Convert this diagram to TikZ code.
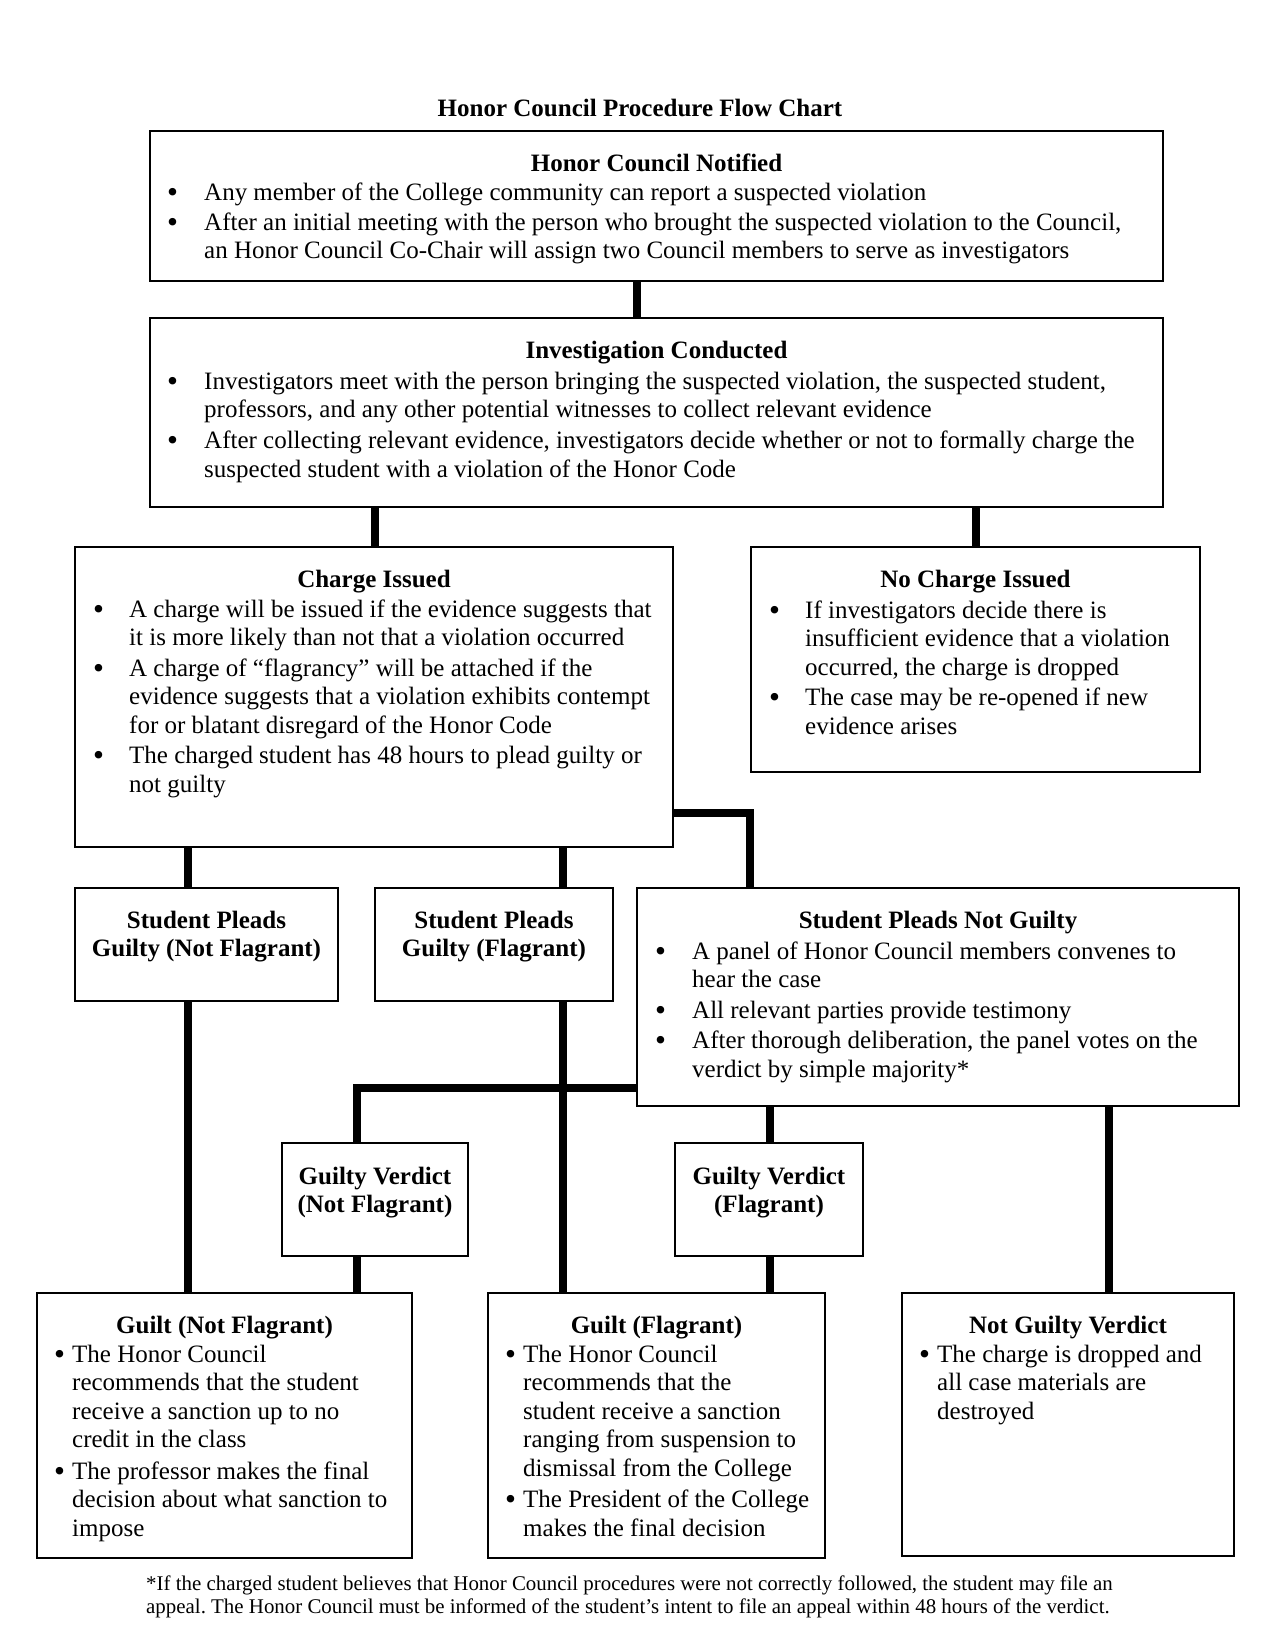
\documentclass[tikz,border=0pt]{standalone}
\usepackage{graphicx}
\usepackage{fontspec}
\setmainfont{Liberation Serif}
\usetikzlibrary{fit}
\frenchspacing
\newcommand\mainsize{\fontsize{25}{28.5}\selectfont}
\newcommand\notesize{\fontsize{20.9}{23}\selectfont}
\newlength\bhang
\newcommand\bigbullet{\raisebox{-2.2pt}{\scalebox{1.25}{\textbullet}}}
\newcommand\bitem{\par\hangindent=\bhang\hangafter=1\noindent\makebox[\bhang][l]{\bigbullet}}
\newcommand\btext[4]{\parbox[t]{#1pt}{\setlength\bhang{#2pt}\raggedright\setlength\parskip{#3pt}#4}}
\tikzset{
  box/.style={draw, line width=2pt, inner sep=0pt},
  conn/.style={line width=8.5pt},
  head/.style={font=\mainsize\bfseries, inner sep=0pt, anchor=base},
  txt/.style={font=\mainsize, inner sep=0pt, anchor=base west},
  note/.style={font=\notesize, inner sep=0pt, anchor=base west},
}
\begin{document}
\begin{tikzpicture}[x=1pt,y=-1pt]
\useasboundingbox (0,0) rectangle (1275,1650);
% boxes
\node[box, fit={(150,131) (1163,281)}] (n1) {};
\node[box, fit={(150,318) (1163,507)}] (n2) {};
\node[box, fit={(75,547) (673,847)}] (ci) {};
\node[box, fit={(751,547) (1200,772)}] (nc) {};
\node[box, fit={(75,888) (338,1001)}] (pgn) {};
\node[box, fit={(375,888) (613,1001)}] (pgf) {};
\node[box, fit={(637,888) (1239,1106)}] (png) {};
\node[box, fit={(282,1143) (468,1256)}] (gvn) {};
\node[box, fit={(675,1143) (863,1256)}] (gvf) {};
\node[box, fit={(37,1293) (412,1558)}] (gn) {};
\node[box, fit={(488,1293) (825,1558)}] (gf) {};
\node[box, fit={(902,1293) (1234,1556)}] (ngv) {};
% connector guide coordinates
\coordinate (xa) at (637,0);
\coordinate (xb) at (375,0);
\coordinate (xc) at (976,0);
\coordinate (xd) at (188,0);
\coordinate (xe) at (563,0);
\coordinate (ja) at (750,813);
\coordinate (jb) at (357,1088);
\coordinate (xf) at (770,0);
\coordinate (xg) at (1109,0);
% connectors
\draw[conn] (xa |- n1.south) -- (xa |- n2.north);
\draw[conn] (xb |- n2.south) -- (xb |- ci.north);
\draw[conn] (xc |- n2.south) -- (xc |- nc.north);
\draw[conn] (xd |- ci.south) -- (xd |- pgn.north);
\draw[conn] (xe |- ci.south) -- (xe |- pgf.north);
\draw[conn] (ja -| ci.east) -- (ja) -- (ja |- png.north);
\draw[conn] (xd |- pgn.south) -- (xd |- gn.north);
\draw[conn] (xe |- pgf.south) -- (xe |- gf.north);
\draw[conn] (jb -| png.west) -- (jb) -- (jb |- gvn.north);
\draw[conn] (jb |- gvn.south) -- (jb |- gn.north);
\draw[conn] (xf |- png.south) -- (xf |- gvf.north);
\draw[conn] (xf |- gvf.south) -- (xf |- gf.north);
\draw[conn] (xg |- png.south) -- (xg |- ngv.north);
% texts
\node[head] (title) at (640,116) {Honor Council Procedure Flow Chart};
\node[head] (h1) at (656.5,171) {Honor Council Notified};
\node[txt] (b1) at (167,200) {\btext{985}{37}{1.5}{%
\bitem Any member of the College community can report a suspected violation
\bitem After an initial meeting with the person who brought the suspected violation to the Council,\newline
an Honor Council Co-Chair will assign two Council members to serve as investigators}};
\node[head] (h2) at (656.5,358) {Investigation Conducted};
\node[txt] (b2) at (167,389) {\btext{985}{37}{2.5}{%
\bitem Investigators meet with the person bringing the suspected violation, the suspected student,\newline
professors, and any other potential witnesses to collect relevant evidence
\bitem After collecting relevant evidence, investigators decide whether or not to formally charge the\newline
suspected student with a violation of the Honor Code}};
\node[head] (hc) at (374,587) {Charge Issued};
\node[txt] (bc) at (93,617) {\btext{575}{36}{2}{%
\bitem A charge will be issued if the evidence suggests that\newline
it is more likely than not that a violation occurred
\bitem A charge of “flagrancy” will be attached if the\newline
evidence suggests that a violation exhibits contempt\newline
for or blatant disregard of the Honor Code
\bitem The charged student has 48 hours to plead guilty or\newline
not guilty}};
\node[head] (hnc) at (975.5,587) {No Charge Issued};
\node[txt] (bnc) at (769,618) {\btext{425}{36}{2}{%
\bitem If investigators decide there is\newline
insufficient evidence that a violation\newline
occurred, the charge is dropped
\bitem The case may be re-opened if new\newline
evidence arises}};
\node[head] (hpgn) at (206.5,928) {\parbox[t]{255pt}{\centering Student Pleads\\Guilty (Not Flagrant)}};
\node[head] (hpgf) at (494,928) {\parbox[t]{235pt}{\centering Student Pleads\\Guilty (Flagrant)}};
\node[head] (hpng) at (938,928) {Student Pleads Not Guilty};
\node[txt] (bpng) at (655,959) {\btext{585}{37}{2}{%
\bitem A panel of Honor Council members convenes to\newline
hear the case
\bitem All relevant parties provide testimony
\bitem After thorough deliberation, the panel votes on the\newline
verdict by simple majority*}};
\node[head] (hgvn) at (375,1184) {\parbox[t]{185pt}{\centering Guilty Verdict\\(Not Flagrant)}};
\node[head] (hgvf) at (769,1184) {\parbox[t]{185pt}{\centering Guilty Verdict\\(Flagrant)}};
\node[head] (hgn) at (224.5,1333) {Guilt (Not Flagrant)};
\node[txt] (bgn) at (54,1362) {\btext{355}{18}{3}{%
\bitem The Honor Council\newline
recommends that the student\newline
receive a sanction up to no\newline
credit in the class
\bitem The professor makes the final\newline
decision about what sanction to\newline
impose}};
\node[head] (hgf) at (656.5,1333) {Guilt (Flagrant)};
\node[txt] (bgf) at (505,1362) {\btext{320}{18}{3}{%
\bitem The Honor Council\newline
recommends that the\newline
student receive a sanction\newline
ranging from suspension to\newline
dismissal from the College
\bitem The President of the College\newline
makes the final decision}};
\node[head] (hngv) at (1068,1333) {Not Guilty Verdict};
\node[txt] (bngv) at (919,1362) {\btext{315}{18}{3}{%
\bitem The charge is dropped and\newline
all case materials are\newline
destroyed}};
\node[note] (fn) at (146,1590) {\parbox[t]{1120pt}{\raggedright
*If the charged student believes that Honor Council procedures were not correctly followed, the student may file an\\
appeal. The Honor Council must be informed of the student’s intent to file an appeal within 48 hours of the verdict.}};
\end{tikzpicture}
\end{document}
